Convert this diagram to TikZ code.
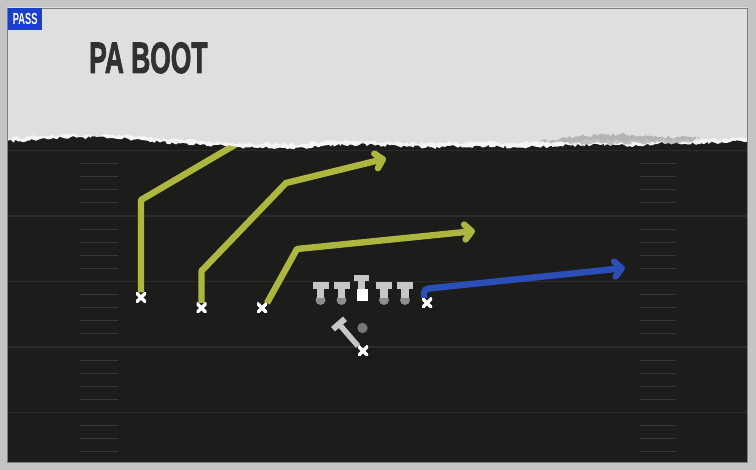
\documentclass[tikz,border=0pt]{standalone}
\usepackage{fontspec}
\usepackage{graphicx}
\setmainfont{Liberation Sans}
\newfontfamily\titlefont{Liberation Sans}[BoldFeatures={FakeBold=2.2}]
\usetikzlibrary{arrows.meta,decorations.pathmorphing}
\definecolor{framegray}{HTML}{C4C4C4}
\definecolor{frameline}{HTML}{7E7E7E}
\definecolor{fieldc}{HTML}{1C1D1B}
\definecolor{yardc}{HTML}{2C2D2B}
\definecolor{hashc}{HTML}{363735}
\definecolor{paperc}{HTML}{DEE0DE}
\definecolor{paperedge}{HTML}{F4F5F4}
\definecolor{titlec}{HTML}{303130}
\definecolor{passblue}{HTML}{1B3ECC}
\definecolor{routey}{HTML}{ADB740}
\definecolor{routeb}{HTML}{2B4FB6}
\definecolor{linec}{HTML}{C6C6C4}
\definecolor{dotc}{HTML}{8C8C8A}
\tikzset{
  xmark/.style={minimum size=10pt, inner sep=0pt, outer sep=0pt,
    path picture={\draw[white, line width=3.4pt]
      (path picture bounding box.south west) -- (path picture bounding box.north east)
      (path picture bounding box.north west) -- (path picture bounding box.south east);}},
  routeline/.style={line width=6.4pt, line join=round},
  route/.style={routeline,
    -{Straight Barb[length=7pt,width=15pt,line cap=round,line join=round]}},
  yardline/.style={draw=yardc, line width=1.3pt},
  hashline/.style={draw=hashc, line width=1pt},
}
\begin{document}
\begin{tikzpicture}[x=1pt,y=-1pt]
\useasboundingbox (0,0) rectangle (756,470);
% frame
\fill[framegray] (0,0) rectangle (756,470);
\fill[fieldc] (7,8) rectangle (747,462);
% yard lines
\foreach \yy in {150.5,216,281.5,347,412.5}
  \draw[yardline] (7,\yy) -- (747,\yy);
% hash marks
\foreach \yy in {163.6,176.7,189.8,202.9,229.1,242.2,255.3,268.4,294.6,307.7,320.8,333.9,360.1,373.2,386.3,399.4,425.6,438.7,451.8}{
  \draw[hashline] (80,\yy) -- (118,\yy);
  \draw[hashline] (640,\yy) -- (676,\yy);
}
% receivers
\node[xmark] (x1) at (141,297.5) {};
\node[xmark] (x2) at (201.5,308) {};
\node[xmark] (x3) at (262,308) {};
\node[xmark] (x4) at (427,303) {};
\node[xmark] (x5) at (363,351) {};
\coordinate (b1) at (141,200);
\coordinate (t1) at (250,136);
\coordinate (b2a) at (201.5,271);
\coordinate (b2b) at (286,183);
\coordinate (t2) at (386,158.5);
\coordinate (b3) at (297,249);
\coordinate (t3) at (475,231);
\coordinate (b4) at (424,289);
\coordinate (t4) at (625,268);
% routes
\draw[routey, routeline] (x1.north) -- (b1) -- (t1);
\draw[routey, route] (x2.north) -- (b2a) -- (b2b) -- (t2);
\draw[routey, route] (x3.north east) -- (b3) -- (t3);
\draw[routeb, route, rounded corners=4pt] ([xshift=-3pt]x4.north) -- (b4) -- (t4);
% offensive line
\foreach \xx in {320.5,341.5,384,405}{
  \fill[dotc] (\xx,300) circle (5);
  \fill[linec] (\xx-8,282.5) rectangle (\xx+8,289);
  \fill[linec] (\xx-3.7,288) rectangle (\xx+3.7,298.5);
}
\fill[linec] (354.3,275) rectangle (368.7,281);
\fill[linec] (358,280) rectangle (365.3,290);
\fill[white] (356.5,289.5) rectangle (367.5,301.5);
% QB dot and running back
\fill[dotc!85!black] (362.5,328) circle (5.2);
\draw[linec, line width=5.5pt] (x5.north west) -- (339,324);
\draw[linec, line width=6pt] (333,329.2) -- (345,318.8);
% torn paper
\begin{scope}
\clip (7,8) rectangle (747,462);
\pgfmathsetseed{11}
\fill[paperedge, decoration={random steps, segment length=2.5pt, amplitude=1.6pt}]
  (747,0) -- (747,142) decorate{ -- (735,141) -- (700,144) -- (660,143) -- (640,146) -- (600,145)
  -- (560,146) -- (520,147.5) -- (480,146) -- (430,147.5) -- (390,145.5) -- (350,144.5) -- (320,146.5)
  -- (290,148.5) -- (250,147.5) -- (225,146) -- (200,145) -- (180,143.5) -- (160,142.5) -- (140,139.5)
  -- (110,138) -- (70,137.5) -- (40,139) -- (20,141) -- (7,141)} -- (0,141) -- (0,0) -- cycle;
\pgfmathsetseed{5}
\fill[paperc, decoration={random steps, segment length=3pt, amplitude=1.8pt}]
  (747,0) -- (747,138) decorate{ -- (735,138) -- (700,140) -- (660,139) -- (640,141) -- (600,140)
  -- (560,141) -- (520,143) -- (480,142) -- (430,143) -- (390,142) -- (350,141) -- (320,142)
  -- (290,144) -- (250,143) -- (225,142) -- (200,141) -- (180,140) -- (160,139) -- (140,136.5)
  -- (110,135) -- (70,134.5) -- (40,136) -- (20,138) -- (7,138)} -- (0,138) -- (0,0) -- cycle;
\pgfmathsetseed{3}
\fill[gray, opacity=0.45, decoration={random steps, segment length=2.5pt, amplitude=1.8pt}, decorate]
  (540,141) -- (580,136) -- (620,134) -- (660,137) -- (700,138) -- (690,142) -- (640,143) -- (590,144) -- cycle;
\end{scope}
\draw[frameline, line width=0.8pt] (7,8) rectangle (747,462);
% labels
\node[fill=passblue, text=white, minimum width=34pt, minimum height=22pt, inner sep=0pt, anchor=north west]
  (pass) at (8,8) {\scalebox{0.58}[1]{\fontsize{16}{16}\selectfont\bfseries PASS}};
\node[anchor=base west, inner sep=0pt, text=titlec] (title) at (89,73)
  {\scalebox{0.6}[1]{\fontsize{44}{44}\selectfont\titlefont\bfseries PA BOOT}};
\end{tikzpicture}
\end{document}
